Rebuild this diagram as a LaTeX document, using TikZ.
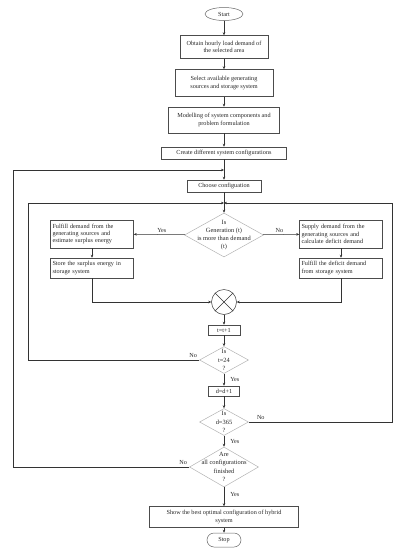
\documentclass[tikz,border=0pt]{standalone}
\usepackage{fontspec}
\setmainfont{Liberation Serif}
\usetikzlibrary{shapes.geometric, arrows.meta}
\tikzstyle{every node}=[font=\fontsize{6.2}{7.2}\selectfont, text=black!85]
\tikzstyle{proc}=[draw=black!70, align=center, inner sep=1pt]
\tikzstyle{side}=[draw=black!70, align=left, inner sep=2pt, text width=79pt]
\tikzstyle{dec}=[diamond, draw=black!30, align=center, inner xsep=-12pt, inner ysep=-10pt,
  font=\fontsize{6.4}{8.2}\selectfont]
\tikzstyle{lbl}=[inner sep=2pt]

\begin{document}
\begin{tikzpicture}[x=1pt, y=-1pt, line width=0.5pt, black!80,
  >={Stealth[length=3pt, width=2.6pt]}]
\useasboundingbox (0,0) rectangle (407,550);
% Main column
  \node[ellipse, draw=black!60, minimum width=38, minimum height=13, inner sep=0pt] (start) at (224,14) {Start};
  \node[proc, minimum width=88, minimum height=23] (load) at (224,47) {Obtain hourly load demand of\\the selected area};
  \node[proc, minimum width=98, minimum height=27] (select) at (224,83) {Select available generating\\sources and storage system};
  \node[proc, minimum width=111, minimum height=26] (model) at (224,120) {Modelling of system components and\\problem formulation};
  \node[proc, minimum width=125, minimum height=12] (config) at (224,153) {Create different system configurations};
  \node[proc, minimum width=74, minimum height=12] (choose) at (224,186) {Choose configuation};
  \node[dec, minimum width=79, minimum height=44] (gen) at (224,235) {Is\\Generation (t)\\is more than demand\\(t)};
% Branches
  \node[side, minimum height=28] (surplus) at (92,234) {Fulfill demand from the\\generating sources and\\estimate surplus energy};
  \node[side, minimum height=20] (store) at (92,268) {Store the surplus energy in\\storage system};
  \node[side, minimum height=28] (supply) at (341,234) {Supply demand from the\\generating sources and\\calculate deficit demand};
  \node[side, minimum height=20] (deficit) at (341,268) {Fulfill the deficit demand\\from storage system};
% Loop over hours and days
  \node[circle, draw=black!80, minimum size=25] (sum) at (224,302) {};
  \draw (sum.45) -- (sum.225);
  \draw (sum.135) -- (sum.315);
  \node[proc, minimum width=32, minimum height=10] (tinc) at (224,330) {t=t+1};
  \node[dec, minimum width=49, minimum height=27] (hour) at (224,360) {Is\\t=24\\?};
  \node[proc, minimum width=31, minimum height=10] (dinc) at (224,391) {d=d+1};
  \node[dec, minimum width=49, minimum height=27] (day) at (224,422) {Is\\d=365\\?};
  \node[dec, minimum width=69, minimum height=40] (allcfg) at (224,467) {Are\\all configurations\\finished\\?};
  \node[proc, minimum width=149, minimum height=21] (best) at (224,517) {Show the best optimal configuration of hybrid\\system};
  \node[draw=black!60, rounded corners=7pt, minimum width=34, minimum height=14] (stop) at (224,540) {Stop};
% Junctions
  \coordinate (loopa) at (224,170);
  \coordinate (loopb) at (224,203);
  \coordinate (outleft) at (13,170);
  \coordinate (inleft) at (28,203);
  \coordinate (inright) at (392,203);
% Arrows
    \draw[->] (start) -- (load);
    \draw[->] (load) -- (select);
    \draw[->] (select) -- (model);
    \draw[->] (model) -- (config);
    \draw[->] (config) -- (choose);
    \draw[->] (choose) -- (gen);
    \draw[->] (gen) -- node[lbl, above, pos=0.45] (yes1) {Yes} (surplus);
    \draw[->] (gen) -- node[lbl, above, pos=0.45] (no1) {No} (supply);
    \draw[->, line width=0.9pt] (surplus) -- (store);
    \draw[->, line width=0.9pt] (supply) -- (deficit);
    \draw[->] (store) |- (sum);
    \draw[->] (deficit) |- (sum);
    \draw[->] (sum) -- (tinc);
    \draw[->] (tinc) -- (hour);
    \draw[->] (hour) -- node[lbl, right, pos=0.45, xshift=4pt] (yes2) {Yes} (dinc);
    \draw[->] (dinc) -- (day);
    \draw[->] (day) -- node[lbl, right, pos=0.5, xshift=4pt] (yes3) {Yes} (allcfg);
    \draw[->] (allcfg) -- node[lbl, right, pos=0.4, xshift=4pt] (yes4) {Yes} (best);
    \draw[->] (best) -- (stop);
% Return paths
    \draw[->] (hour.west) node[lbl, above left] (no2) {No} -- (hour -| inleft) |- (loopb);
    \draw[->] (day.east) node[lbl, above right, xshift=6pt] (no3) {No} -- (day -| inright) |- (loopb);
    \draw[->] (allcfg.west) node[lbl, above left] (no4) {No} -- (allcfg -| outleft) |- (loopa);

\end{tikzpicture}
\end{document}
